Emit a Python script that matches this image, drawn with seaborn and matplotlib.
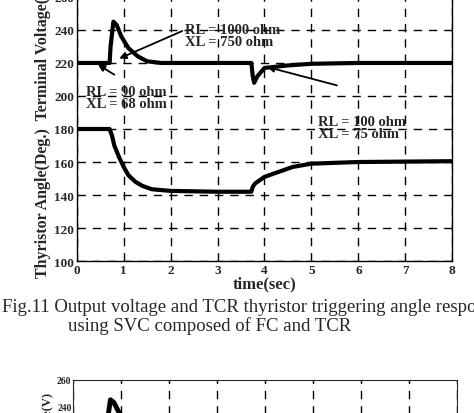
import matplotlib
matplotlib.use("Agg")
import matplotlib.pyplot as plt
import seaborn as sns
import pandas as pd

sns.set_style("white")
plt.rcParams['font.family'] = ['Liberation Serif', 'DejaVu Serif']

t_v = [0, 0.7, 0.72, 0.78, 0.85, 0.95, 1.1, 1.3, 1.5, 1.8, 3.72, 3.75, 3.78, 3.85, 4.0, 4.5, 5.0, 6.0, 8.0]
volt = [220, 220, 230, 245, 243, 236, 229, 224, 221, 220, 220, 212, 208, 212, 217, 218.5, 219.5, 220, 220]
t_a = [0, 0.7, 0.75, 0.8, 0.9, 1.0, 1.1, 1.25, 1.4, 1.6, 2.0, 3.0, 3.72, 3.75, 3.8, 3.9, 4.0, 4.3, 4.6, 5.0, 6.0, 8.0]
angle = [180, 180, 176, 170, 163, 157, 152, 148, 145.5, 143.5, 142.5, 142, 142, 145, 147, 149, 151, 154, 157, 159, 160, 160.5]
xticks = [0, 1, 2, 3, 4, 5, 6, 7, 8]
yticks = [100, 120, 140, 160, 180, 200, 220, 240, 260]

fig = plt.figure(figsize=(4.74, 4.14), dpi=100)
ax = fig.add_axes([0.162, 0.367, 0.792, 0.638])
sns.lineplot(x=t_v, y=volt, ax=ax, color='black', lw=3)
sns.lineplot(x=t_a, y=angle, ax=ax, color='black', lw=3)
ax.set_xlim(0, 8); ax.set_ylim(100, 260)
ax.set_xticks(xticks); ax.set_yticks(yticks)
ax.tick_params(labelsize=9.5, length=0, pad=2)
for l in ax.get_xticklabels() + ax.get_yticklabels():
    l.set_fontweight('bold')
ax.grid(True, color='black', ls=(0, (6, 5)), lw=1)
for s in ax.spines.values():
    s.set_color('black'); s.set_linewidth(1)
ax.set_xlabel('time(sec)', fontsize=12, fontweight='bold', labelpad=0)
ax.set_ylabel('Thyristor Angle(Deg.)  Terminal Voltage(V)', fontsize=11.5, fontweight='bold', labelpad=2)
kw = dict(fontsize=10.5, fontweight='bold', ha='left', va='center', linespacing=0.85)
arr = dict(arrowstyle='-|>', color='black', lw=1.3)
ax.annotate('', xy=(0.85, 222), xytext=(2.3, 240), arrowprops=arr)
ax.text(2.3, 236.5, 'RL = 1000 ohm\nXL = 750 ohm', **kw)
ax.annotate('', xy=(0.4, 220), xytext=(0.85, 212), arrowprops=arr)
ax.text(0.2, 199, 'RL = 90 ohm\nXL = 68 ohm', **kw)
ax.annotate('', xy=(4.0, 218), xytext=(5.6, 206), arrowprops=arr)
ax.text(5.15, 181, 'RL = 100 ohm\nXL = 75 ohm', **kw)

fig.text(0.005, 0.258, 'Fig.11 Output voltage and TCR thyristor triggering angle response', fontsize=13.5, ha='left', va='center')
fig.text(0.143, 0.213, 'using SVC composed of FC and TCR', fontsize=13.5, ha='left', va='center')

ax2 = fig.add_axes([0.154, -0.24, 0.81, 0.32])
sns.lineplot(x=t_v, y=volt, ax=ax2, color='black', lw=3.5)
ax2.set_xlim(0, 8); ax2.set_ylim(160, 260)
ax2.set_xticks(xticks); ax2.set_yticks([160, 180, 200, 220, 240, 260])
ax2.tick_params(labelsize=7, length=0, pad=1, labelbottom=False)
for l in ax2.get_yticklabels():
    l.set_fontweight('bold')
ax2.grid(True, axis='x', color='black', ls=(0, (6, 5)), lw=1)
ax2.set_ylabel('Terminal Voltage(V)', fontsize=9, fontweight='bold', labelpad=2, y=0.5)
fig.savefig('out.png', dpi=100)
